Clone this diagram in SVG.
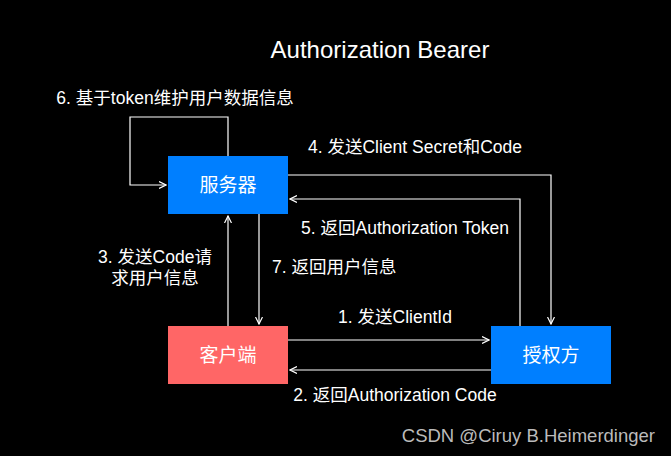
<svg xmlns="http://www.w3.org/2000/svg" width="671" height="456" viewBox="0 0 671 456">
<style>
text{font-family:"Liberation Sans","Noto Sans CJK SC",sans-serif;fill:#fff;font-size:17.5px}
.c{stroke:#fff;stroke-width:1.2;fill:none;marker-end:url(#a)}
.n{font-size:19px}
</style>
<defs><marker id="a" markerWidth="8" markerHeight="8" refX="7" refY="4" orient="auto" markerUnits="userSpaceOnUse"><path d="M0,0.5 L7,4 L0,7.5" fill="none" stroke="#fff" stroke-width="1.2"/></marker></defs>
<rect width="671" height="456" fill="#000"/>
<text x="380" y="58" text-anchor="middle" style="font-size:24px">Authorization Bearer</text>
<g id="server"><rect x="168" y="156" width="120" height="58" fill="#007FFF"/><text class="n" x="228" y="192" text-anchor="middle">服务器</text></g>
<g id="client"><rect x="168" y="326" width="120" height="58" fill="#FF6666"/><text class="n" x="228" y="362" text-anchor="middle">客户端</text></g>
<g id="auth"><rect x="491" y="326" width="120" height="58" fill="#007FFF"/><text class="n" x="551" y="362" text-anchor="middle">授权方</text></g>
<g id="connectors">
<path class="c" d="M228,156 V117 H130 V185 H166"/>
<path class="c" d="M288,175 H551 V324"/>
<path class="c" d="M520,326 V199 H290"/>
<path class="c" d="M228,326 V216"/>
<path class="c" d="M259,214 V324"/>
<path class="c" d="M288,340 H489"/>
<path class="c" d="M491,370 H290"/>
</g>
<text x="175" y="104" text-anchor="middle">6. 基于token维护用户数据信息</text>
<text x="415" y="153" text-anchor="middle">4. 发送Client Secret和Code</text>
<text x="405" y="234" text-anchor="middle">5. 返回Authorization Token</text>
<text x="155" y="263" text-anchor="middle">3. 发送Code请</text>
<text x="155" y="284" text-anchor="middle">求用户信息</text>
<text x="272" y="273">7. 返回用户信息</text>
<text x="395" y="323" text-anchor="middle">1. 发送ClientId</text>
<text x="395" y="401" text-anchor="middle">2. 返回Authorization Code</text>
<text x="655" y="442" text-anchor="end" style="fill:#bbb;font-size:18.5px">CSDN @Ciruy B.Heimerdinger</text>
</svg>
